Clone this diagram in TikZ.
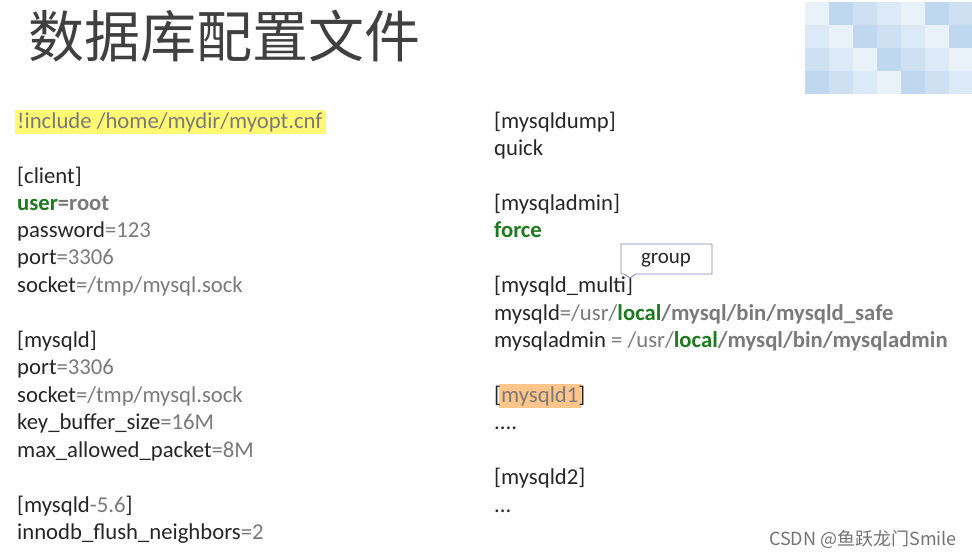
\documentclass[tikz,border=0pt]{standalone}
\usepackage{fontspec}
\setmainfont{Carlito}
\newfontfamily\cjk{Noto Sans CJK SC}
\definecolor{txt}{HTML}{262626}
\definecolor{val}{HTML}{7A7A7A}
\definecolor{grn}{HTML}{1E7A1E}
\newcommand{\V}[1]{\textcolor{val}{#1}}
\newcommand{\G}[1]{\textcolor{grn}{\bfseries #1}}
\newcommand{\B}[1]{\textcolor{val}{\bfseries #1}}
\begin{document}
\begin{tikzpicture}[x=1pt,y=-1pt,
  ln/.style={anchor=base west,inner sep=0pt,font=\fontsize{22.7}{26}\selectfont,text=txt}]
\useasboundingbox (0,0) rectangle (972,557);
\fill[white] (0,0) rectangle (972,557);
% blurred watermark
\foreach \i in {0,...,6}{\foreach \j in {0,...,3}{
  \pgfmathsetmacro\op{mod(\i*7+\j*5,4)*0.07+0.1}
  \fill[blue!50!cyan!60!gray,opacity=\op] (805+\i*24,2+\j*23) rectangle ++(24,23);}}
\node[anchor=west,inner sep=0pt,text=black!75,font=\cjk\fontsize{56}{60}\selectfont] (title) at (28,36) {数据库配置文件};
% highlights
\fill[yellow!55] (15,110) rectangle (326,134);
\fill[orange!45] (499,384) rectangle (581,408);
% left column
\node[ln] (l1) at (17,128) {\V{!include /home/mydir/myopt.cnf}};
\node[ln] (l2) at (17,183) {[client]};
\node[ln] (l3) at (17,210) {\G{user}\B{=root}};
\node[ln] (l4) at (17,237) {password\V{=123}};
\node[ln] (l5) at (17,264) {port\V{=3306}};
\node[ln] (l6) at (17,292) {socket\V{=/tmp/mysql.sock}};
\node[ln] (l7) at (17,347) {[mysqld]};
\node[ln] (l8) at (17,374) {port\V{=3306}};
\node[ln] (l9) at (17,402) {socket\V{=/tmp/mysql.sock}};
\node[ln] (l10) at (17,429) {key\_buffer\_size\V{=16M}};
\node[ln] (l11) at (17,457) {max\_allowed\_packet\V{=8M}};
\node[ln] (l12) at (17,512) {[mysqld\V{-5.6}]};
\node[ln] (l13) at (17,539) {innodb\_flush\_neighbors\V{=2}};
% right column
\node[ln] (r1) at (494,128) {[mysqldump]};
\node[ln] (r2) at (494,155) {quick};
\node[ln] (r3) at (494,210) {[mysqladmin]};
\node[ln] (r4) at (494,237) {\G{force}};
\node[ln] (r5) at (494,292) {[mysqld\_multi]};
\node[ln] (r6) at (494,320) {mysqld\V{=/usr/}\G{local}\B{/mysql/bin/mysqld\_safe}};
\node[ln] (r7) at (494,347) {mysqladmin \V{= /usr/}\G{local}\B{/mysql/bin/mysqladmin}};
\node[ln] (r8) at (494,402) {[\textcolor{val}{mysqld1}]};
\node[ln] (r9) at (494,429) {....};
\node[ln] (r10) at (494,484) {[mysqld2]};
\node[ln] (r11) at (494,512) {...};
% callout
\draw[blue!45!black!50,line width=0.8pt,fill=white] (621,244) -- (712,244) -- (712,274) -- (636,274) -- (630,278) -- (624,274) -- (621,274) -- cycle;
\node[font=\fontsize{21}{24}\selectfont,text=txt] (grp) at (666,260) {group};
% watermark
\node[anchor=base east,inner sep=0pt,text=black!55,font=\cjk\fontsize{18}{20}\selectfont] (wm) at (957,545) {CSDN @鱼跃龙门Smile};
\end{tikzpicture}
\end{document}
